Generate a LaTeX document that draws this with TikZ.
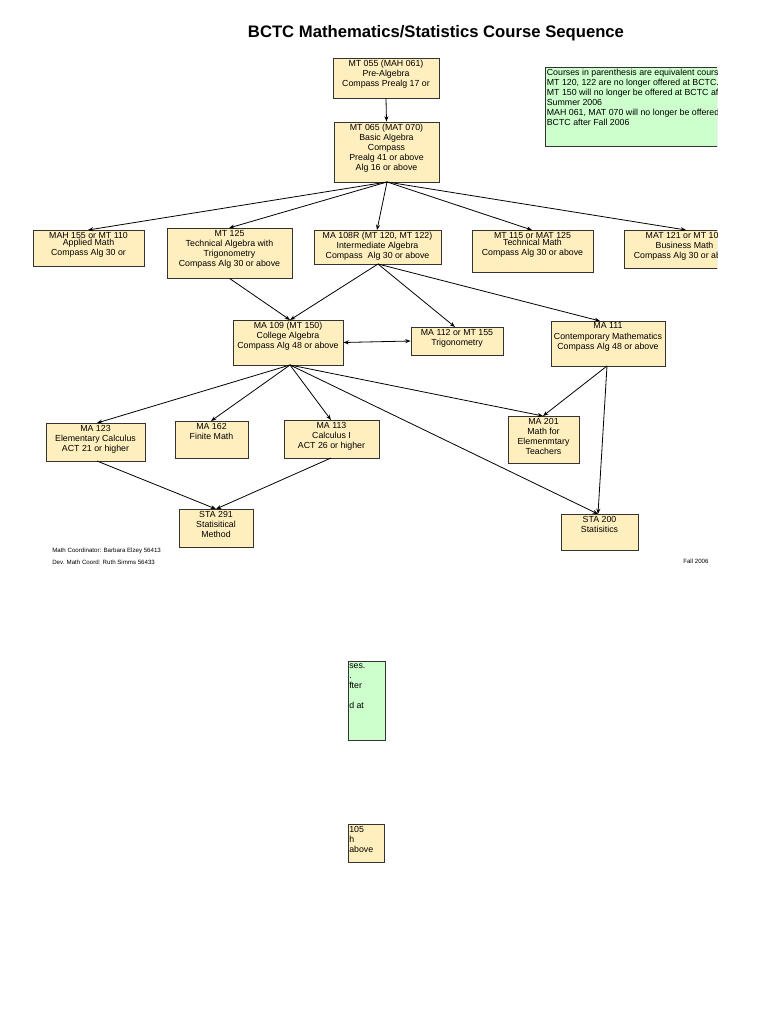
\documentclass[tikz,border=0pt]{standalone}
\usepackage{fontspec}
\setmainfont{Liberation Sans}
\usetikzlibrary{shadows,arrows.meta}
\definecolor{by}{HTML}{FFEFBF}
\definecolor{gn}{HTML}{CCFFCC}
\newcommand\cb[6]{%
  \node[box,minimum width={(#4-#2)*0.75pt},minimum height={(#5-#3)*0.75pt}] (#1) at ({(#2+#4)/2},{(#3+#5)/2}) {};
  \node[txt,anchor=north] at (#1.north) {#6};}
\begin{document}
\begin{tikzpicture}[x=0.75pt,y=-0.75pt,
  box/.style={draw=black!80,fill=by,line width=0.6pt,inner sep=0pt,drop shadow={shadow xshift=1pt,shadow yshift=-1pt,fill=black!60,opacity=0.8}},
  txt/.style={font=\fontsize{6.6}{7.6}\selectfont,align=center,inner sep=1.5pt},
  ar/.style={-{Stealth[length=4pt,width=3pt]},line width=0.6pt},
  ft/.style={font=\fontsize{4.6}{5.5}\selectfont,anchor=west,inner sep=0pt}]
\useasboundingbox (0,0) rectangle (768,1024);
\fill[white] (0,0) rectangle (768,1024);
\node[font=\bfseries\fontsize{12.5}{14}\selectfont] (title) at (436,33) {BCTC Mathematics/Statistics Course Sequence};
\cb{A}{333}{58}{439}{98}{MT 055 (MAH 061)\\Pre-Algebra\\Compass Prealg 17 or}
\cb{B}{334}{122}{439}{182}{MT 065 (MAT 070)\\Basic Algebra\\Compass\\Prealg 41 or above\\Alg 16 or above}
\cb{C1}{33}{230}{144}{266}{MAH 155 or MT 110\\[-2pt]Applied Math\\Compass Alg 30 or}
\cb{C2}{167}{228}{292}{278}{MT 125\\Technical Algebra with\\Trigonometry\\Compass Alg 30 or above}
\cb{C3}{314}{230}{441}{264}{MA 108R (MT 120, MT 122)\\Intermediate Algebra\\Compass\ \ Alg 30 or above}
\cb{C4}{472}{230}{593}{272}{MT 115 or MAT 125\\[-2pt]Technical Math\\Compass Alg 30 or above}
\begin{scope}
\clip (0,0) rectangle (717,1024);
\cb{C5}{624}{230}{745}{268}{MAT 121 or MT 105\\Business Math\\Compass Alg 30 or above}
\node[box,fill=gn,minimum width={(790-545)*0.75pt},minimum height={(146-67)*0.75pt}] (N) at ({(545+790)/2},{(67+146)/2}) {};
\node[txt,align=left,anchor=north west,inner sep=1.5pt] at (N.north west) {Courses in parenthesis are equivalent courses.\\MT 120, 122 are no longer offered at BCTC.\\MT 150 will no longer be offered at BCTC after\\Summer 2006\\MAH 061, MAT 070 will no longer be offered at\\BCTC after Fall 2006};
\end{scope}
\cb{D1}{233}{320}{343}{365}{MA 109 (MT 150)\\College Algebra\\Compass Alg 48 or above}
\cb{D2}{411}{327}{503}{355}{MA 112 or MT 155\\Trigonometry}
\cb{D3}{551}{321}{665}{366}{MA 111\\Contemporary Mathematics\\Compass Alg 48 or above}
\cb{E1}{46}{423}{145}{461}{MA 123\\Elementary Calculus\\ACT 21 or higher}
\cb{E2}{175}{421}{248}{458}{MA 162\\Finite Math}
\cb{E3}{284}{420}{379}{458}{MA 113\\Calculus I\\ACT 26 or higher}
\cb{E4}{508}{416}{579}{463}{MA 201\\Math for\\Elemenmtary\\Teachers}
\cb{F1}{179}{509}{253}{547}{STA 291\\Statisitical\\Method}
\cb{F2}{561}{514}{638}{550}{STA 200\\Statisitics}
\node[ft] (f1) at (52,551) {Math Coordinator: Barbara Elzey 56413};
\node[ft] (f2) at (52,562) {Dev. Math Coord: Ruth Simms 56433};
\node[ft] (f3) at (683,561) {Fall 2006};
% overflow fragments
\node[box,fill=gn,minimum width={37*0.75pt},minimum height={79*0.75pt}] (G) at (366.5,700.5) {};
\node[txt,align=left,anchor=north west,inner sep=0pt] at (349,663) {ses.\\.\\fter\\\\d at};
\node[box,minimum width={36*0.75pt},minimum height={38*0.75pt}] (Y) at (366,843) {};
\node[txt,align=left,anchor=north west,inner sep=0pt] at (349,826) {105\\h\\above};
% connectors
\draw[ar] (A.south) -- (B.north);
\coordinate (bs) at (387,182);
\draw[ar] (bs) -- (88,230);
\draw[ar] (bs) -- (229,228);
\draw[ar] (bs) -- (377,230);
\draw[ar] (bs) -- (532,230);
\draw[ar] (bs) -- (686,230);
\coordinate (cs) at (378,264);
\draw[ar] (C2.south) -- (290,320);
\draw[ar] (cs) -- (290,320);
\draw[ar] (cs) -- (455,327);
\draw[ar] (cs) -- (600,321);
\draw[{Stealth[length=4pt,width=3pt]}-{Stealth[length=4pt,width=3pt]},line width=0.6pt] (D1.east) -- (D2.west);
\coordinate (ds) at (290,365);
\draw[ar] (ds) -- (97,423);
\draw[ar] (ds) -- (211,421);
\draw[ar] (ds) -- (331,420);
\draw[ar] (ds) -- (543,416);
\draw[ar] (ds) -- (598,514);
\coordinate (ms) at (607,366);
\draw[ar] (ms) -- (543,416);
\draw[ar] (ms) -- (598,514);
\draw[ar] (97,461) -- (216,509);
\draw[ar] (331,458) -- (216,509);
\end{tikzpicture}
\end{document}
